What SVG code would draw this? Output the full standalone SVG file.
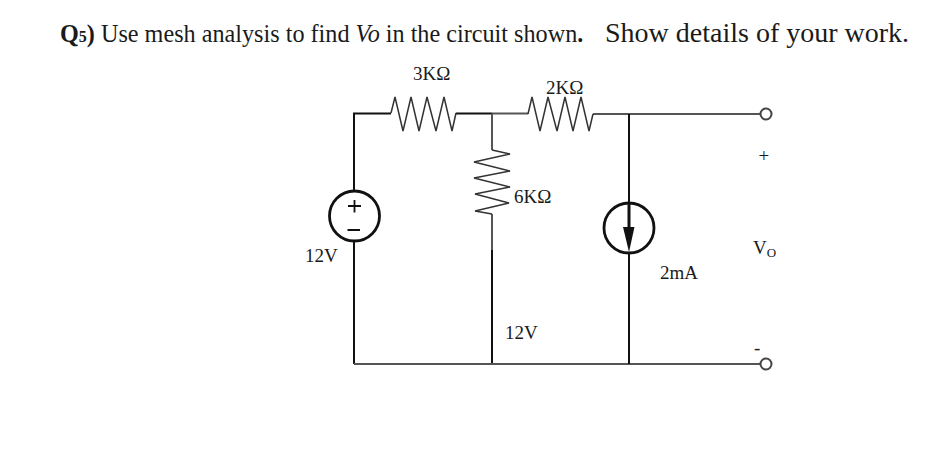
<svg xmlns="http://www.w3.org/2000/svg" width="938" height="465" viewBox="0 0 938 465">
<style>
text{font-family:"Liberation Serif","Times New Roman",serif;fill:#1a1a1a}
.t{font-size:24.200px}
.s{font-size:28px}
.l{font-size:19px}
.w{fill:none;stroke:#111;stroke-width:2}
.g{fill:none;stroke:#555;stroke-width:2}
.r{fill:none;stroke:#333;stroke-width:1.5}
.c{fill:#fff;stroke:#111;stroke-width:2.8}
.o{fill:#fff;stroke:#444;stroke-width:2}
</style>
<rect width="938" height="465" fill="#fff"/>
<g id="title">
<text x="60" y="42" class="t"><tspan font-weight="bold">Q<tspan font-size="16">5</tspan>)</tspan> Use mesh analysis to find <tspan font-style="italic">Vo</tspan> in the circuit shown<tspan font-weight="bold">.</tspan></text>
<text x="605" y="42" class="s">Show details of your work.</text>
</g>
<g id="connectors">
<path class="w" d="M354 192V113.500H391"/>
<path class="w" d="M456 113.500H492"/>
<path class="g" d="M492 113.500H528"/>
<path class="g" d="M593 114H760"/>
<path class="g" d="M492 113.500V150"/>
<path class="g" d="M492 214V250"/>
<path class="w" d="M492 250V364"/>
<path class="w" d="M354 240V364"/>
<path class="g" d="M354 364H760"/>
<path class="w" d="M629 114V204"/>
<path class="w" d="M629 252V364"/>
</g>
<g id="r1"><path class="r" d="M391 113 395 97 403 131 411 97 419 131 427 97 436 131 444 97 452 131 456 113"/><text x="413" y="80" class="l">3KΩ</text></g>
<g id="r2"><path class="r" d="M528 114 532 97 540 131 548 97 557 131 565 97 573 131 581 97 589 131 593 114"/><text x="546" y="94" class="l">2KΩ</text></g>
<g id="r3"><path class="r" d="M492 150 510 154 474 162 510 171 474 178 510 187 475 194 509 203 475 211 492 214"/><text x="514" y="203" class="l">6KΩ</text></g>
<g id="v1"><circle class="c" cx="354.500" cy="216" r="25"/>
<path d="M354.500 200V212.500M348 206H361M347.500 230H360" fill="none" stroke="#111" stroke-width="1.800"/>
<text x="305" y="262" class="l">12V</text></g>
<g id="i1"><circle class="c" cx="629" cy="228" r="25"/>
<path d="M629 204V230" fill="none" stroke="#111" stroke-width="3"/>
<path d="M623 227H634.500L629 252Z" fill="#111"/>
<text x="660" y="279" class="l">2mA</text></g>
<g id="label-12v"><text x="505" y="339" class="l">12V</text></g>
<g id="terminal-top"><circle class="o" cx="766" cy="114" r="5.500"/></g>
<g id="terminal-bottom"><circle class="o" cx="766" cy="364" r="5.500"/></g>
<g id="vo"><text x="758.500" y="162" class="l" font-size="19">+</text>
<text x="753" y="254" class="l">V<tspan font-size="13" dy="3">O</tspan></text>
<text x="754" y="354" class="l">-</text></g>
</svg>
